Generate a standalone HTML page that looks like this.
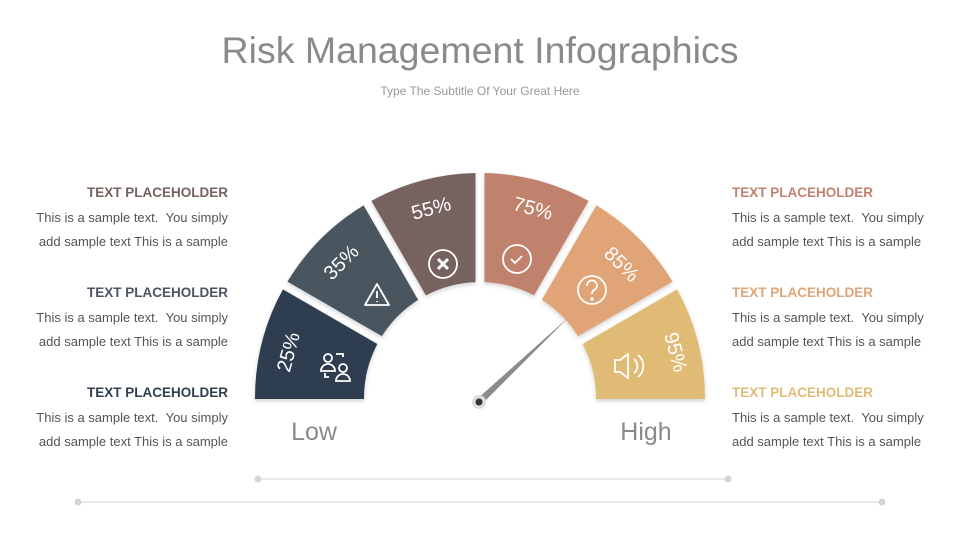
<!DOCTYPE html>
<html><head><meta charset="utf-8"><style>
body{margin:0;background:#fff;font-family:"Liberation Sans",sans-serif}
#c{position:relative;width:960px;height:540px;overflow:hidden}
.t{position:absolute;white-space:nowrap}
.h{font-weight:bold;font-size:13.5px}
.b{font-size:13px;color:#555}
.L{right:732px;text-align:right}
.R{left:732px}
</style></head><body><div id="c">
<div class="t" style="left:0;width:960px;text-align:center;top:29px;font-size:37.5px;color:#8a8a8a">Risk Management Infographics</div>
<div class="t" style="left:0;width:960px;text-align:center;top:84px;font-size:12px;color:#999">Type The Subtitle Of Your Great Here</div>

<div class="t h L" style="top:185px;color:#76625f">TEXT PLACEHOLDER</div>
<div class="t b L" style="top:210px">This is a sample text. &nbsp;You simply</div>
<div class="t b L" style="top:234px">add sample text This is a sample</div>
<div class="t h L" style="top:285px;color:#4a5661">TEXT PLACEHOLDER</div>
<div class="t b L" style="top:310px">This is a sample text. &nbsp;You simply</div>
<div class="t b L" style="top:334px">add sample text This is a sample</div>
<div class="t h L" style="top:385px;color:#2f3e50">TEXT PLACEHOLDER</div>
<div class="t b L" style="top:410px">This is a sample text. &nbsp;You simply</div>
<div class="t b L" style="top:434px">add sample text This is a sample</div>

<div class="t h R" style="top:185px;color:#c0826d">TEXT PLACEHOLDER</div>
<div class="t b R" style="top:210px">This is a sample text. &nbsp;You simply</div>
<div class="t b R" style="top:234px">add sample text This is a sample</div>
<div class="t h R" style="top:285px;color:#e0a477">TEXT PLACEHOLDER</div>
<div class="t b R" style="top:310px">This is a sample text. &nbsp;You simply</div>
<div class="t b R" style="top:334px">add sample text This is a sample</div>
<div class="t h R" style="top:385px;color:#dfbb76">TEXT PLACEHOLDER</div>
<div class="t b R" style="top:410px">This is a sample text. &nbsp;You simply</div>
<div class="t b R" style="top:434px">add sample text This is a sample</div>

<svg id="s" width="960" height="540" style="position:absolute;left:0;top:0">
<defs><filter id="sh" x="-20%" y="-20%" width="140%" height="140%"><feDropShadow dx="0" dy="2" stdDeviation="2" flood-color="#000" flood-opacity="0.18"/></filter></defs>
<g id="segs" filter="url(#sh)"></g>
<g fill="#fff" font-size="20" text-anchor="middle" font-family="Liberation Sans, sans-serif">
<text transform="translate(288,352) rotate(-75)" dy="7">25%</text>
<text transform="translate(341,262) rotate(-45)" dy="7">35%</text>
<text transform="translate(431,208) rotate(-15)" dy="7">55%</text>
<text transform="translate(533,208) rotate(15)" dy="7">75%</text>
<text transform="translate(622,264) rotate(45)" dy="7">85%</text>
<text transform="translate(676,352) rotate(75)" dy="7">95%</text>
</g>
<g fill="none" stroke="#fff" stroke-width="1.8">
<circle cx="443" cy="264" r="14"/><path d="M438 259l10 10M448 259l-10 10" stroke-width="3"/>
<circle cx="517" cy="259" r="14"/><path d="M511 259l4 4 7-7"/>
<circle cx="592" cy="290" r="14"/><path d="M587 286a5 5 0 1 1 7 4q-2 1-2 4"/><circle cx="592" cy="299" r="0.8"/>
<path d="M377 284l12 21h-24z" stroke-linejoin="round"/><path d="M377 291v7M377 301v1"/>
<circle cx="328" cy="358" r="4"/><path d="M321 371a7 7 0 0 1 14 0z"/>
<circle cx="343" cy="368" r="4"/><path d="M336 381a7 7 0 0 1 14 0z"/>
<path d="M336 354h7v3M329 377h-4v-4"/>
<path d="M615 360h5l8-6v24l-8-6h-5z"/><path d="M634 359a9 9 0 0 1 0 14M638 355a14 14 0 0 1 0 22"/>
</g>
<polygon points="476,400 482,404 570,316" fill="#8c8c8c"/>
<circle cx="479" cy="402" r="7" fill="#ddd"/><circle cx="479" cy="402" r="3.5" fill="#333"/>
<g stroke="#ddd" stroke-width="1.2"><line x1="258" y1="479" x2="728" y2="479"/><line x1="78" y1="502" x2="882" y2="502"/></g>
<g fill="#d5d5d5"><circle cx="258" cy="479" r="3.5"/><circle cx="728" cy="479" r="3.5"/><circle cx="78" cy="502" r="3.5"/><circle cx="882" cy="502" r="3.5"/></g>
<text x="314" y="440" font-size="25" fill="#8a8a8a" text-anchor="middle" font-family="Liberation Sans, sans-serif">Low</text>
<text x="646" y="440" font-size="25" fill="#8a8a8a" text-anchor="middle" font-family="Liberation Sans, sans-serif">High</text>
</svg>
<script>
(function(){
var cx=480,cy=398,R=225,r=116,g=4.5;
var cols=["#2f3e50","#4a5661","#76625f","#c0826d","#e0a477","#dfbb76"];
var out="";
function p(rad,a){return (cx+rad*Math.cos(a)).toFixed(2)+" "+(cy-rad*Math.sin(a)).toFixed(2);}
for(var i=0;i<6;i++){
 var a0=(180-30*i)*Math.PI/180,a1=(150-30*i)*Math.PI/180;
 var o0=(i==0)?-1:g,o1=(i==5)?-1:g;
 var A0R=a0-Math.asin(o0/R),A1R=a1+Math.asin(o1/R),A0r=a0-Math.asin(o0/r),A1r=a1+Math.asin(o1/r);
 var d="M"+p(R,A0R)+" A"+R+" "+R+" 0 0 1 "+p(R,A1R)+" L"+p(r,A1r)+" A"+r+" "+r+" 0 0 0 "+p(r,A0r)+"Z";
 out+='<path d="'+d+'" fill="'+cols[i]+'"/>';
}
document.getElementById("segs").innerHTML=out;
})();
</script>
</div></body></html>
